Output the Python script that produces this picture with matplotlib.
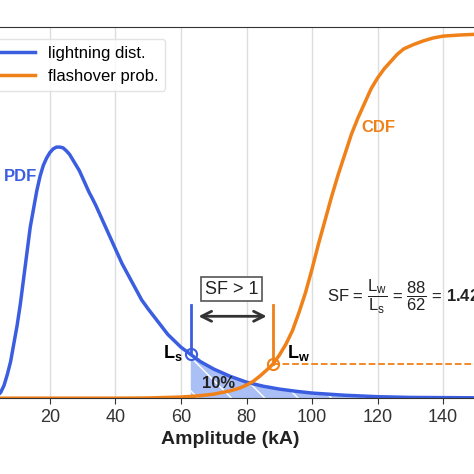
import matplotlib
matplotlib.use("Agg")
import matplotlib.pyplot as plt
import numpy as np

plt.rcParams['font.family'] = ['Liberation Sans', 'DejaVu Sans']
plt.rcParams['mathtext.fontset'] = 'custom'
plt.rcParams['mathtext.rm'] = 'Liberation Sans'
plt.rcParams['mathtext.bf'] = 'Liberation Sans:bold'
plt.rcParams['mathtext.it'] = 'Liberation Sans'

pdf_x = [0, 2, 4, 5, 6, 7, 8, 9, 10, 11, 12, 13, 14, 15, 16, 17, 18, 19, 20, 21, 22, 23, 24, 25, 26, 27, 28, 29,
         30, 31, 32, 33, 34, 35, 36, 37, 38, 39, 40, 42, 45, 48, 50, 53, 56, 60, 63, 66, 70, 75, 80, 85, 90, 95,
         100, 110, 120, 130, 150]
pdf_y = [0, 0.001, 0.007, 0.016, 0.035, 0.065, 0.10, 0.15, 0.20, 0.26, 0.33, 0.40, 0.47, 0.52, 0.57, 0.61, 0.64,
         0.66, 0.675, 0.685, 0.69, 0.69, 0.688, 0.68, 0.67, 0.655, 0.64, 0.625, 0.605, 0.585, 0.565, 0.548, 0.53,
         0.51, 0.49, 0.47, 0.45, 0.43, 0.41, 0.37, 0.32, 0.27, 0.245, 0.21, 0.175, 0.14, 0.12, 0.10, 0.08, 0.06,
         0.044, 0.033, 0.025, 0.019, 0.014, 0.008, 0.004, 0.002, 0.001]
cdf_x = [0, 40, 50, 60, 65, 70, 75, 78, 80, 82, 84, 86, 88, 90, 92, 94, 96, 98, 100, 102, 104, 106, 108, 110, 112,
         114, 116, 118, 120, 122, 124, 126, 128, 131, 134, 137, 140, 145, 150]
cdf_y = [0, 0, 0.0005, 0.003, 0.006, 0.011, 0.02, 0.028, 0.036, 0.046, 0.06, 0.076, 0.093, 0.118, 0.148, 0.185,
         0.235, 0.29, 0.355, 0.425, 0.49, 0.555, 0.615, 0.67, 0.725, 0.77, 0.81, 0.85, 0.88, 0.905, 0.925, 0.945,
         0.96, 0.972, 0.982, 0.99, 0.995, 0.998, 1.0]
Ls, Lw = 63, 88
xticks = [20, 40, 60, 80, 100, 120, 140]

blue = '#3b5ee0'
orange = '#f08018'

fig = plt.figure(figsize=(4.74, 4.74), dpi=100)
ax = fig.add_axes([-0.033, 0.160, 1.037, 0.783])
ax.set_xlim(0, 150)
ax.set_ylim(0, 1.02)
ax.grid(axis='x', color='#dddddd', lw=1)
ax.set_axisbelow(True)
for s in ['left', 'right']:
    ax.spines[s].set_visible(False)
ax.spines['top'].set_color('#333333')
ax.spines['bottom'].set_color('#333333')
ax.set_yticks([])
ax.set_xticks(xticks)
ax.tick_params(axis='x', labelsize=13, colors='#333333', length=4)
ax.set_xlabel('Amplitude (kA)', fontsize=14, fontweight='bold', color='#222222')

px = np.array(pdf_x); py = np.array(pdf_y)
m = px >= Ls
ax.fill_between(px[m], 0, py[m], color='#a9bff5', hatch='\\', edgecolor='white', lw=0)
ax.plot(pdf_x, pdf_y, color=blue, lw=2.5, label='lightning dist.')
ax.plot(cdf_x, cdf_y, color=orange, lw=2.5, label='flashover prob.')

ax.plot([Ls, Ls], [0.12, 0.255], color=blue, lw=2)
ax.plot([Lw, Lw], [0.093, 0.255], color=orange, lw=2)
ax.plot([Ls], [0.12], 'o', mfc='none', mec=blue, ms=8, mew=1.5)
ax.plot([Lw], [0.093], 'o', mfc='none', mec=orange, ms=8, mew=1.5)
ax.plot([Lw, 150], [0.093, 0.093], color=orange, ls='--', lw=1.3)
ax.annotate('', xy=(64.5, 0.225), xytext=(87, 0.225),
            arrowprops=dict(arrowstyle='<->', color='#333333', lw=2, mutation_scale=18))
ax.text(75.5, 0.30, 'SF > 1', fontsize=13, ha='center', va='center', color='#222222',
        bbox=dict(boxstyle='square,pad=0.2', fc='white', ec='#555555', lw=1.2))
ax.text(57.5, 0.125, r'$\mathbf{L_s}$', fontsize=13, ha='center', va='center')
ax.text(96, 0.125, r'$\mathbf{L_w}$', fontsize=13, ha='center', va='center')
ax.text(66.5, 0.04, '10%', fontsize=12, fontweight='bold', color='#222222', va='center')
ax.text(104.5, 0.28, r'SF = $\dfrac{\mathrm{L_w}}{\mathrm{L_s}}$ = $\dfrac{88}{62}$ = $\mathbf{1.42}$',
        fontsize=12, va='center', color='#222222')
ax.text(6, 0.61, 'PDF', fontsize=12, fontweight='bold', color=blue, va='center')
ax.text(115, 0.745, 'CDF', fontsize=12, fontweight='bold', color=orange, va='center')

ax.legend(loc='upper left', bbox_to_anchor=(-0.03, 0.99), fontsize=12, frameon=True,
          edgecolor='#dddddd', handlelength=3)
fig.savefig('out.png', dpi=100)
